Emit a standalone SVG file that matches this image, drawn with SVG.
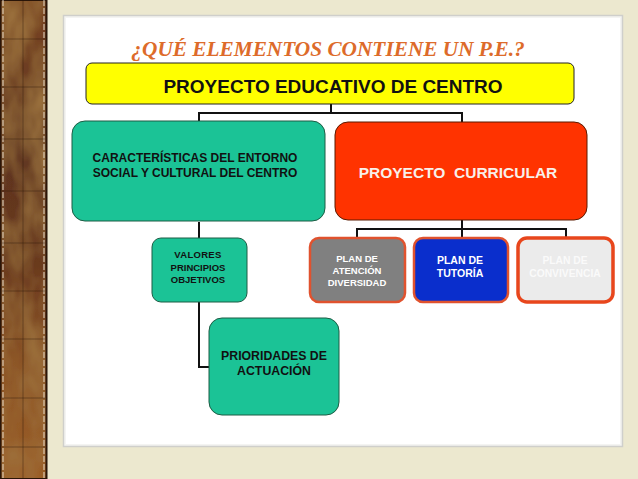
<svg xmlns="http://www.w3.org/2000/svg" width="638" height="479" viewBox="0 0 638 479">
  <defs>
    <linearGradient id="wood" x1="0" y1="0" x2="0" y2="1">
      <stop offset="0" stop-color="#7a4520"/>
      <stop offset="0.3" stop-color="#5e3320"/>
      <stop offset="0.55" stop-color="#6a3a1e"/>
      <stop offset="0.75" stop-color="#8a5224"/>
      <stop offset="1" stop-color="#9a5e28"/>
    </linearGradient>
    <filter id="grain" x="0" y="0" width="100%" height="100%">
      <feTurbulence type="fractalNoise" baseFrequency="0.04 0.02" numOctaves="3" seed="4" result="n"/>
      <feColorMatrix in="n" type="matrix" values="0 0 0 0 0.35  0 0 0 0 0.18  0 0 0 0 0.05  0 0 0 -1.6 1.1" result="m"/>
      <feComposite in="m" in2="SourceGraphic" operator="atop"/>
    </filter>
    <style>
      .t { font-family: "Liberation Sans", Arial, sans-serif; font-weight: bold; text-anchor: middle; }
      .conn { fill: none; stroke: #111; stroke-width: 2; }
      .green { fill: #1bc396; stroke: #1d5c44; stroke-width: 1; }
      .plan { stroke: #e0522e; stroke-width: 2.5; }
    </style>
  </defs>

  <!-- background -->
  <rect x="0" y="0" width="638" height="479" fill="#ece8cf"/>

  <!-- wood strip -->
  <g id="wood-strip">
    <rect x="0" y="0" width="47" height="479" fill="url(#wood)" filter="url(#grain)"/>
    <rect x="0.5" y="0" width="46" height="479" fill="none" stroke="#2a1508" stroke-width="2"/>
    <line x1="3" y1="0" x2="3" y2="479" stroke="#e8dcc8" stroke-width="1" stroke-dasharray="6 2"/>
    <line x1="44" y1="0" x2="44" y2="479" stroke="#e8dcc8" stroke-width="1" stroke-dasharray="6 2"/>
    <line x1="23" y1="0" x2="23" y2="479" stroke="#2a1508" stroke-width="0.8" opacity="0.5"/>
    <g stroke="#2a1508" stroke-width="0.8" opacity="0.5">
      <line x1="2" y1="39" x2="45" y2="39"/>
      <line x1="2" y1="87" x2="45" y2="87"/>
      <line x1="2" y1="139" x2="45" y2="139"/>
      <line x1="2" y1="191" x2="45" y2="191"/>
      <line x1="2" y1="243" x2="45" y2="243"/>
      <line x1="2" y1="291" x2="45" y2="291"/>
      <line x1="2" y1="339" x2="45" y2="339"/>
      <line x1="2" y1="398" x2="45" y2="398"/>
      <line x1="2" y1="447" x2="45" y2="447"/>
    </g>
  </g>

  <!-- white panel -->
  <rect x="63.5" y="15.5" width="559" height="431" fill="#f4f4f2" stroke="#cfcfcb" stroke-width="1.5"/>
  <rect x="66" y="18" width="554" height="426" fill="#ffffff"/>

  <!-- title -->
  <text x="328" y="56" font-family="'Liberation Serif', 'Times New Roman', serif" font-style="italic" font-weight="bold" font-size="21.3" fill="#dd6b2a" text-anchor="middle">¿QUÉ ELEMENTOS CONTIENE UN P.E.?</text>

  <!-- connectors -->
  <g id="connectors">
    <polyline class="conn" points="331,104 331,113"/>
    <polyline class="conn" points="199,121 199,113 462,113 462,122"/>
    <polyline class="conn" points="199,222 199,238"/>
    <polyline class="conn" points="199,302 199,367 210,367"/>
    <polyline class="conn" points="462,220 462,229"/>
    <polyline class="conn" points="357,238 357,229 566,229 566,238"/>
    <polyline class="conn" points="462,229 462,238"/>
  </g>

  <g id="pec">
    <rect x="86" y="63" width="488" height="41" rx="6" fill="#ffff00" stroke="#222" stroke-width="1"/>
    <text class="t" x="333" y="93" font-size="19" fill="#111">PROYECTO EDUCATIVO DE CENTRO</text>
  </g>

  <g id="caracteristicas">
    <rect class="green" x="72" y="121" width="253" height="100" rx="13"/>
    <text class="t" x="195" y="162" font-size="12" fill="#111">CARACTERÍSTICAS DEL ENTORNO</text>
    <text class="t" x="195" y="177" font-size="12" fill="#111">SOCIAL Y CULTURAL DEL CENTRO</text>
  </g>

  <g id="curricular">
    <rect x="335" y="122" width="252" height="98" rx="13" fill="#ff3300" stroke="#5a1a00" stroke-width="1"/>
    <text class="t" x="458" y="178" font-size="15.5" fill="#f8f0ea" xml:space="preserve">PROYECTO  CURRICULAR</text>
  </g>

  <g id="valores">
    <rect class="green" x="152" y="238" width="95" height="64" rx="9"/>
    <text class="t" x="198" y="258" font-size="9.5" fill="#111" letter-spacing="0.3">VALORES</text>
    <text class="t" x="198" y="271" font-size="9.5" fill="#111">PRINCIPIOS</text>
    <text class="t" x="198" y="283" font-size="9.5" fill="#111">OBJETIVOS</text>
  </g>

  <g id="prioridades">
    <rect class="green" x="209" y="318" width="130" height="97" rx="13"/>
    <text class="t" x="274" y="360" font-size="12.3" fill="#111">PRIORIDADES DE</text>
    <text class="t" x="274" y="375" font-size="12.3" fill="#111">ACTUACIÓN</text>
  </g>

  <g id="atencion">
    <rect class="plan" x="310" y="238" width="95" height="64" rx="9" fill="#808080"/>
    <text class="t" x="357" y="262" font-size="9.5" fill="#ffffff">PLAN DE</text>
    <text class="t" x="357" y="274" font-size="9.5" fill="#ffffff">ATENCIÓN</text>
    <text class="t" x="357" y="286" font-size="9.5" fill="#ffffff">DIVERSIDAD</text>
  </g>

  <g id="tutoria">
    <rect class="plan" x="414" y="238" width="94" height="64" rx="9" fill="#0a2ecc"/>
    <text class="t" x="460" y="264" font-size="10.5" fill="#ffffff">PLAN DE</text>
    <text class="t" x="460" y="277" font-size="10.5" fill="#ffffff">TUTORÍA</text>
  </g>

  <g id="convivencia">
    <rect x="518" y="238" width="95" height="64" rx="9" fill="#ebebeb" stroke="#e8461c" stroke-width="3.5"/>
    <text class="t" x="565" y="264" font-size="10.3" fill="#fafafa">PLAN DE</text>
    <text class="t" x="565" y="277" font-size="10.3" fill="#fafafa">CONVIVENCIA</text>
  </g>
</svg>
